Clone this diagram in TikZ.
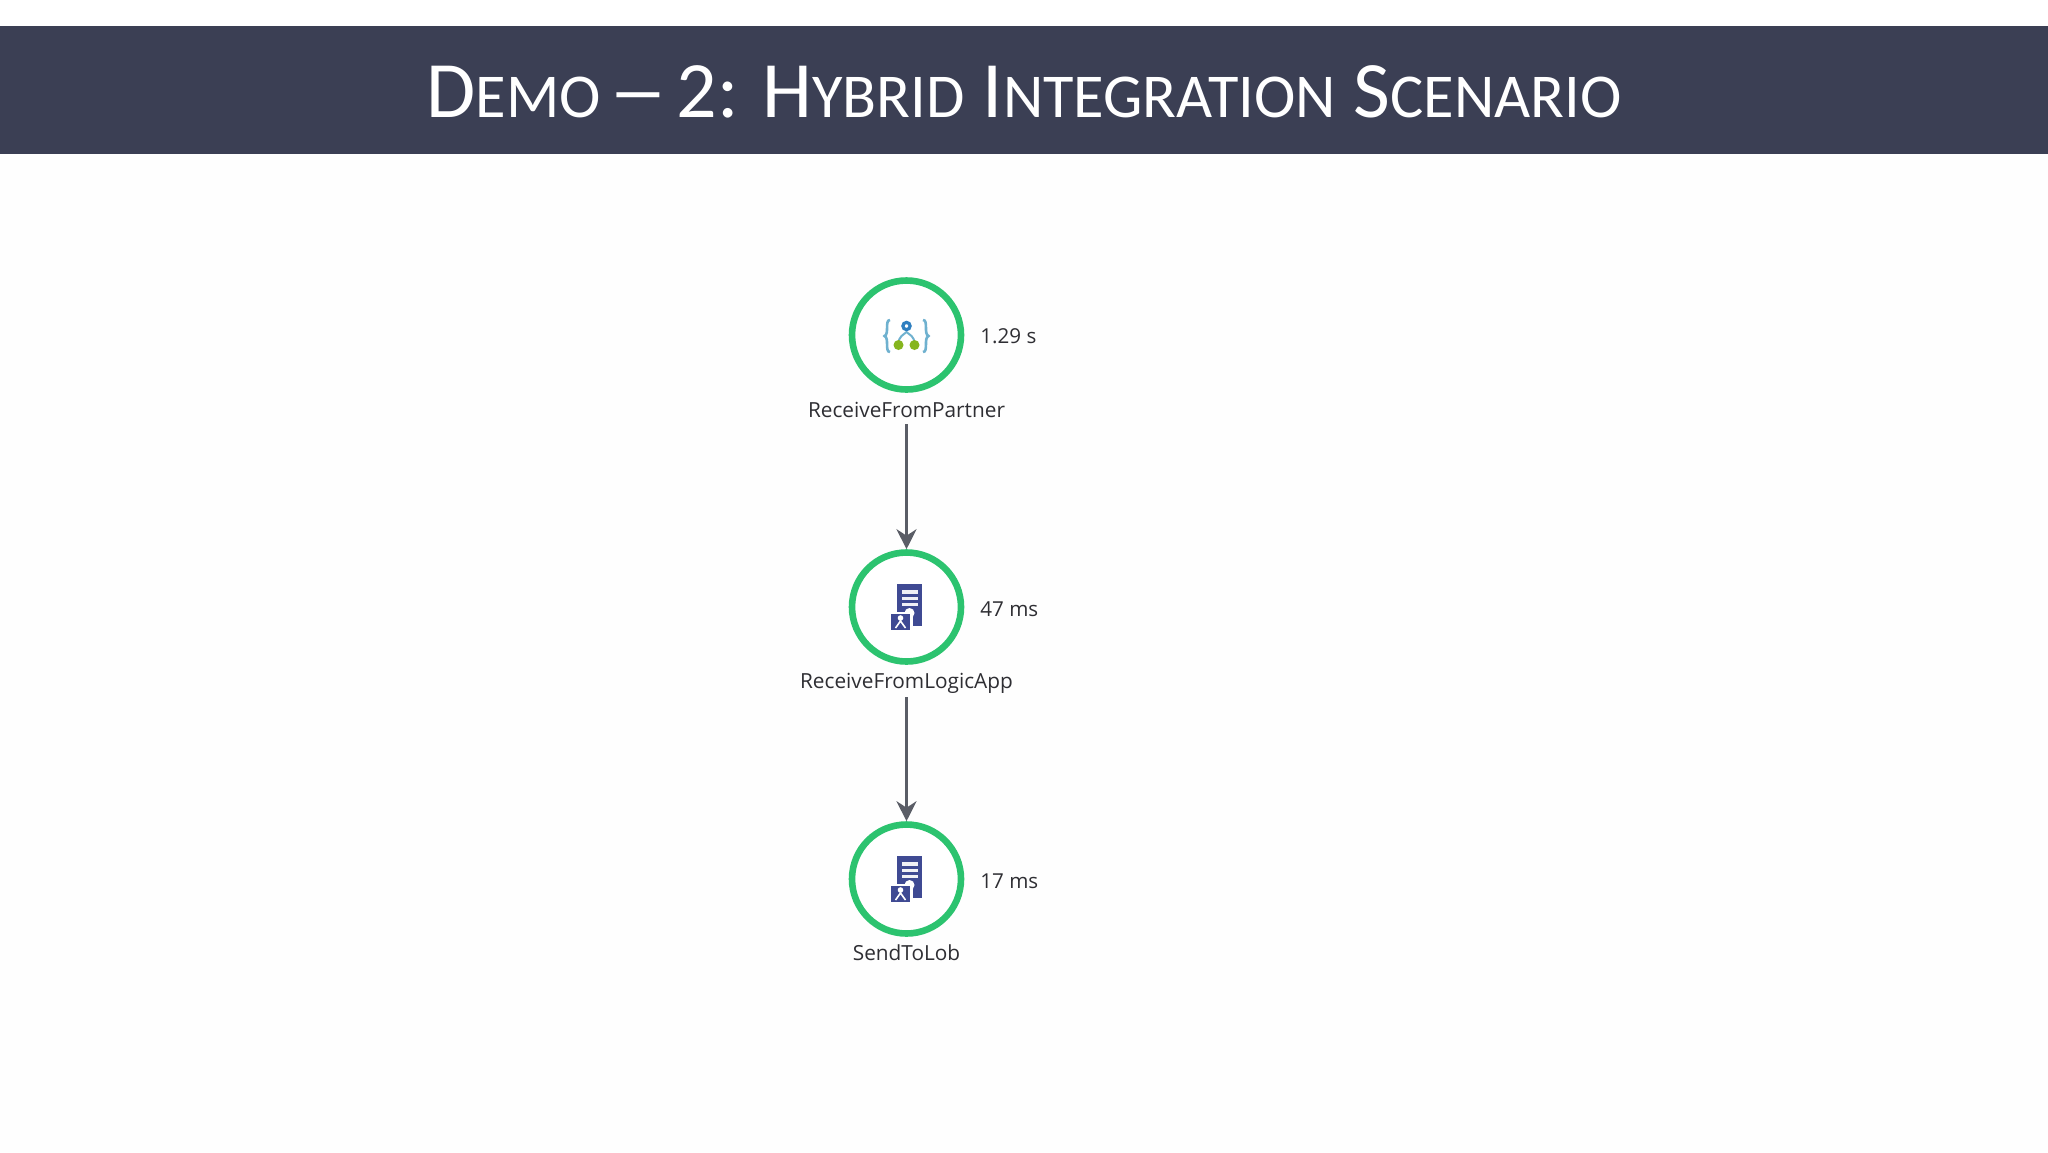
\documentclass[tikz,border=0pt]{standalone}
\usepackage{fontspec}
\usepackage{graphicx}
\setmainfont{Open Sans}
\newfontfamily\titlefont{Carlito}
\usetikzlibrary{arrows.meta}
\definecolor{barcol}{HTML}{3B3F54}
\definecolor{ringcol}{HTML}{2CC36F}
\definecolor{linecol}{HTML}{5A5D66}
\definecolor{textcol}{HTML}{2E2E33}
\definecolor{docblue}{HTML}{3F4A93}
\definecolor{bracecol}{HTML}{6FB1CF}
\definecolor{leafcol}{HTML}{86B51E}
\definecolor{rootcol}{HTML}{2F7FC0}
\definecolor{pagecol}{HTML}{FEFEFE}
\tikzset{
  x=0.5pt,y=-0.5pt,
  ring/.style={circle,draw=ringcol,line width=3.3pt,fill=white,minimum size=54.5pt,inner sep=0pt},
  namelabel/.style={font=\fontsize{10.4pt}{12pt}\selectfont,text=textcol,inner sep=0pt,minimum height=14pt,anchor=center},
  timelabel/.style={font=\fontsize{10.3pt}{12pt}\selectfont,text=textcol,inner sep=0pt,anchor=west},
  flow/.style={draw=linecol,line width=1.4pt,-{Stealth[length=10pt,width=10pt]}},
  titletext/.style={font=\titlefont\fontsize{40pt}{44pt}\selectfont,text=white,inner sep=0pt},
}
\newcommand{\capsm}[1]{{\fontsize{31.2pt}{44pt}\selectfont #1}}
\newcommand{\docicon}[1]{%
  \begin{scope}[shift={(#1)}]
    \fill[docblue] (-9.5,-23) rectangle (15.5,19);
    \fill[white!92!docblue] (-5,-17) rectangle (11,-13.5);
    \fill[white!92!docblue] (-5,-10.5) rectangle (11,-7);
    \fill[white!92!docblue] (-5,-4.5) rectangle (11,-1);
    \fill[white] (-17,5) rectangle (6,25);
    \fill[white] (3,6) circle (5);
    \fill[docblue] (-15.5,7) rectangle (3.5,23);
    \draw[white,line width=0.8pt] (-6,10) -- (-6,14) -- (-11,21) (-6,14) -- (-1,21);
    \fill[white] (-6,11) circle (2.8);
  \end{scope}}
\begin{document}
\begin{tikzpicture}
\useasboundingbox (0,0) rectangle (2048,1152);
\fill[pagecol] (0,0) rectangle (2048,1152);
\fill[white] (0,0) rectangle (2048,26);
\fill[barcol] (0,26) rectangle (2048,154);
\node[titletext] (title) at (1024,92) {D\capsm{EMO} \kern-5pt\scalebox{1.5}[1]{–}\kern-5pt{} 2: H\capsm{YBRID} I\capsm{NTEGRATION} S\capsm{CENARIO}};

\node[ring] (c1) at (906.5,335) {};
\node[ring] (c2) at (906.5,607) {};
\node[ring] (c3) at (906.5,879) {};
\node[namelabel] (l1) at (906.5,410) {ReceiveFromPartner};
\node[namelabel] (l2) at (906.5,683) {ReceiveFromLogicApp};
\node[namelabel] (l3) at (906.5,953) {SendToLob};
\node[timelabel] (t1) at (980,336.5) {1.29 s};
\node[timelabel] (t2) at (980,609) {47 ms};
\node[timelabel] (t3) at (980,881) {17 ms};
\draw[flow] (l1.south) -- (c2.north);
\draw[flow] (l2.south) -- (c3.north);

% logic-app icon
\begin{scope}[shift={(906.5,335)}]
  \draw[bracecol,line width=1.3pt] (-16.5,-15) .. controls (-22,-15) and (-17,-1) .. (-22,1) .. controls (-17,3) and (-22,17) .. (-16.5,17);
  \draw[bracecol,line width=1.3pt] (16.5,-15) .. controls (22,-15) and (17,-1) .. (22,1) .. controls (17,3) and (22,17) .. (16.5,17);
  \draw[bracecol,line width=1pt] (-8,9) .. controls (-8,1) and (-3,0) .. (0,-3) .. controls (3,0) and (8,1) .. (8,9);
  \draw[rootcol,fill=white,line width=1.6pt] (0,-9) circle (3.6);
  \fill[leafcol] (-8,10) circle (5);
  \fill[leafcol] (8,10) circle (5);
\end{scope}
\docicon{906.5,607}
\docicon{906.5,879}
\end{tikzpicture}
\end{document}
